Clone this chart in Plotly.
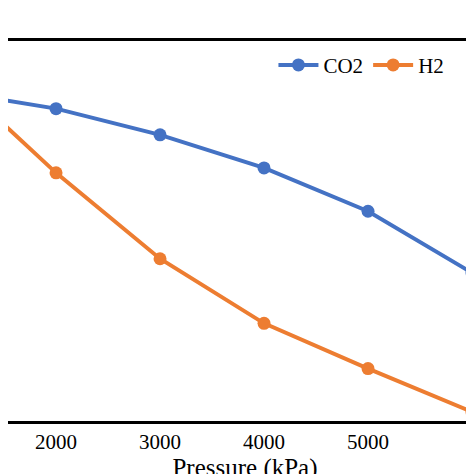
import plotly.graph_objects as go

pressure = [1000, 2000, 3000, 4000, 5000, 6000]
co2 = [86.7, 82.2, 75.3, 66.6, 55.2, 39.0]
h2 = [90.7, 65.3, 42.7, 25.7, 13.8, 2.4]

fig = go.Figure()
fig.add_trace(go.Scatter(x=pressure, y=co2, name='CO2', mode='lines+markers',
                         line=dict(color='#4472C4', width=4), marker=dict(size=13),
                         cliponaxis=False))
fig.add_trace(go.Scatter(x=pressure, y=h2, name='H2', mode='lines+markers',
                         line=dict(color='#ED7D31', width=4), marker=dict(size=13),
                         cliponaxis=False))

fig.update_layout(
    width=474, height=474,
    margin=dict(l=0, r=0, t=33, b=61, autoexpand=False),
    plot_bgcolor='white', paper_bgcolor='white',
    font=dict(family='Times New Roman, Liberation Serif, serif', size=21, color='black'),
    showlegend=True,
    legend=dict(orientation='h', x=0.56, y=0.99, xanchor='left', yanchor='top',
                bgcolor='rgba(0,0,0,0)', font=dict(size=21), itemwidth=40),
    xaxis=dict(range=[1538, 6096], showgrid=False, zeroline=False,
               tickvals=[2000, 3000, 4000, 5000, 6000], ticks='',
               showline=True, mirror=True, linecolor='black', linewidth=3,
               automargin=False,
               title=dict(text='Pressure (kPa)', standoff=4)),
    yaxis=dict(range=[0, 100], showgrid=False, zeroline=False, automargin=False,
               showticklabels=False, ticks='', showline=False),
)

fig.write_html("out.html")
